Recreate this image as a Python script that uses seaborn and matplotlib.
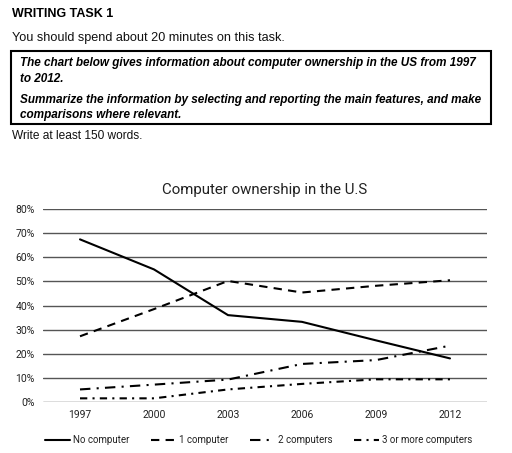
import matplotlib
matplotlib.use("Agg")
import matplotlib.pyplot as plt
import seaborn as sns
import pandas as pd
from matplotlib.patches import Rectangle
from matplotlib.lines import Line2D

years = ["1997", "2000", "2003", "2006", "2009", "2012"]
no_computer = [67.5, 55, 36, 33.2, 25.5, 18]
one_computer = [27.2, 38.5, 50.2, 45.4, 48.2, 50.5]
two_computers = [5.1, 7.1, 9.2, 15.7, 17.3, 23.3]
three_plus = [1.4, 1.4, 5.1, 7.4, 9.3, 9.3]
series_names = ["No computer", "1 computer", "2 computers", "3 or more computers"]
y_ticks = [0, 10, 20, 30, 40, 50, 60, 70, 80]
title = "Computer ownership in the U.S"

rows = []
for name, vals in zip(series_names, [no_computer, one_computer, two_computers, three_plus]):
    for yr, v in zip(years, vals):
        rows.append({"year": yr, "value": v, "series": name})
df = pd.DataFrame(rows)

sns.set_theme(style="white")
plt.rcParams["font.family"] = ["Roboto", "DejaVu Sans"]

fig = plt.figure(figsize=(5.12, 4.53), dpi=100)
ax = fig.add_axes([43/512, 1-401.7/453, 444/512, 192.4/453])

dashes = {
    "No computer": "",
    "1 computer": (4, 3),
    "2 computers": (5, 3, 1, 3),
    "3 or more computers": (3.5, 2.5, 1, 2.5),
}
sns.lineplot(data=df, x="year", y="value", hue="series", style="series",
             palette=["black"]*4, dashes=dashes, linewidth=1.5, ax=ax,
             legend=False, sort=False, zorder=3)

ax.set_xlim(-0.5, 5.5)
ax.set_ylim(0, 80)
ax.set_yticks(y_ticks)
ax.set_yticklabels([f"{t}%" for t in y_ticks])
for s in ax.spines.values():
    s.set_visible(False)
ax.grid(axis="y", color="#555555", linewidth=1.0, zorder=0)
ax.grid(axis="x", visible=False)
ax.set_xlabel("")
ax.set_ylabel("")
ax.tick_params(axis="both", length=0, labelsize=7.5, colors="#222222")
ax.tick_params(axis="y", pad=6)
ax.tick_params(axis="x", pad=6)
ax.set_title(title, fontsize=10.8, color="#222222", pad=11)

handles = []
for name in series_names:
    d = dashes[name]
    if d == "":
        handles.append(Line2D([0], [0], color="black", linewidth=1.5))
    else:
        handles.append(Line2D([0], [0], color="black", linewidth=1.5, dashes=d))
fig.legend(handles, series_names, loc="center", bbox_to_anchor=(0.505, 1-440/453),
           ncol=4, frameon=False, fontsize=7, handlelength=2.6, handletextpad=0.3,
           columnspacing=2.2, labelcolor="#222222")

hdr = ["Liberation Sans", "DejaVu Sans"]
fig.text(12/512, 1-14/453, "WRITING TASK 1", family=hdr, fontsize=9,
         fontweight="bold", va="center", ha="left", color="black")
fig.text(12/512, 1-38/453, "You should spend about 20 minutes on this task.",
         family=hdr, fontsize=9.1, va="center", ha="left", color="#111111")
fig.patches.append(Rectangle((11/512, 1-124/453), 480/512, 73/453, transform=fig.transFigure,
                             fill=False, edgecolor="black", linewidth=1.5))
box_lines = [
    (63, "The chart below gives information about computer ownership in the US from 1997"),
    (79, "to 2012."),
    (100, "Summarize the information by selecting and reporting the main features, and make"),
    (115, "comparisons where relevant."),
]
for yy, t in box_lines:
    fig.text(20/512, 1-yy/453, t, family=hdr, fontsize=8.5, fontweight="bold",
             style="italic", va="center", ha="left", color="black")
fig.text(12/512, 1-136/453, "Write at least 150 words.", family=hdr, fontsize=8.6,
         va="center", ha="left", color="#111111")

fig.savefig("out.png", dpi=100)
